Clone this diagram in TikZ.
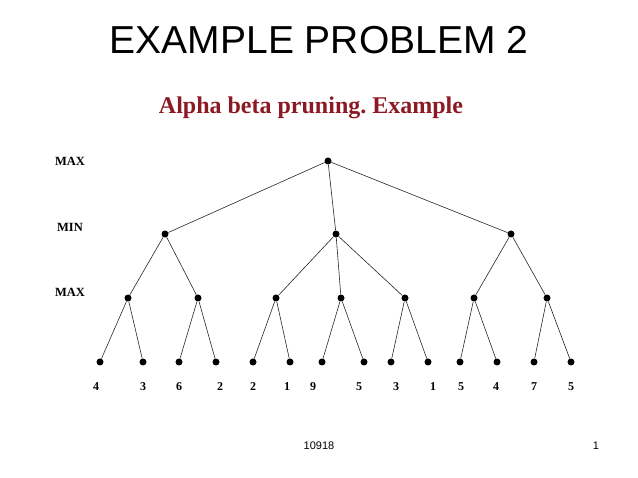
\documentclass[tikz,border=0pt]{standalone}
\usepackage{fontspec}
\setmainfont{Liberation Serif}
\newfontfamily\slidefont{Liberation Sans}
\usetikzlibrary{positioning}
\frenchspacing
\definecolor{titlered}{RGB}{140,25,35}
\tikzstyle{dot} = [circle, fill=black, inner sep=0pt, minimum size=7pt]
\tikzstyle{level} = [font={\fontsize{12.5pt}{14}\selectfont\bfseries}]
\tikzstyle{leafval} = [font={\fontsize{12pt}{14}\selectfont\bfseries}]
\tikzstyle{edge} = [line width=0.6pt, black!85]
\begin{document}
\begin{tikzpicture}[x=1pt, y=-1pt]
    \useasboundingbox (0,0) rectangle (638,478);

    \node (title) at (319,40) {\slidefont\fontsize{39pt}{44}\selectfont EXAMPLE PROBLEM 2};
    \node (subtitle) at (311,108) [text=titlered] {\fontsize{24pt}{28}\selectfont\bfseries Alpha beta pruning. Example};

    \node (lmax) at (70,161) [level] {MAX};
    \node (lmin) at (70,227) [level] {MIN};
    \node (lmax2) at (70,292) [level] {MAX};

    % tree nodes
    \node (root) at (328,161) [dot] {};
    \node (n1) at (165,234) [dot] {};
    \node (n2) at (336,234) [dot] {};
    \node (n3) at (511,234) [dot] {};
    \foreach \name/\x in {m1/128, m2/198, m3/276, m4/341, m5/405, m6/474, m7/547}
        \node (\name) at (\x,298) [dot] {};
    \foreach \name/\x/\v/\vx in {l1/100/4/96, l2/143/3/143, l3/179/6/179, l4/216/2/220,
                              l5/253/2/253, l6/290/1/287, l7/322/9/313, l8/364/5/359,
                              l9/391/3/396, l10/428/1/433, l11/460/5/461, l12/497/4/496,
                              l13/534/7/534, l14/571/5/571}
    {
        \node (\name) at (\x,362) [dot] {};
        \node (v\name) at (\vx,387) [leafval] {\v};
    }

    % edges
    \foreach \a/\b in {root/n1, root/n2, root/n3,
                       n1/m1, n1/m2, n2/m3, n2/m4, n2/m5, n3/m6, n3/m7,
                       m1/l1, m1/l2, m2/l3, m2/l4, m3/l5, m3/l6, m4/l7, m4/l8,
                       m5/l9, m5/l10, m6/l11, m6/l12, m7/l13, m7/l14}
        \draw [edge] (\a) -- (\b);

    \node (footer) at (319,446) {\slidefont\fontsize{11pt}{12}\selectfont 10918};
    \node (page) at (596,446) {\slidefont\fontsize{11pt}{12}\selectfont 1};
\end{tikzpicture}
\end{document}
